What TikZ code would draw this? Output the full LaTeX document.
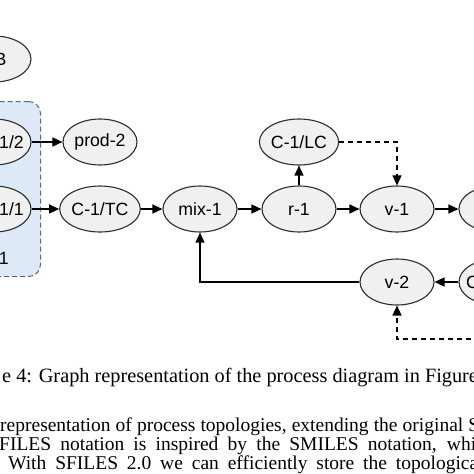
\documentclass[tikz,border=0pt]{standalone}
\usepackage{fontspec}
\setmainfont{Liberation Serif}
\newfontfamily\nodefont{Liberation Sans}
\usetikzlibrary{arrows.meta,shapes.geometric}
\definecolor{nodefill}{RGB}{240,240,240}
\definecolor{nodeline}{RGB}{45,45,45}
\definecolor{groupfill}{RGB}{222,233,247}
\definecolor{groupline}{RGB}{85,105,135}
\begin{document}
\begin{tikzpicture}[x=1pt,y=-1pt,
  unit/.style={ellipse, draw=nodeline, line width=1.1pt, fill=nodefill,
    minimum width=74pt, minimum height=46pt, inner sep=0pt,
    font=\nodefont\fontsize{17.7}{20}\selectfont},
  ntext/.style={inner sep=0pt, font=\nodefont\fontsize{17.7}{20}\selectfont},
  flow/.style={line width=1.5pt, -{Triangle[length=10pt,width=9pt]}},
  signal/.style={flow, dash pattern=on 5pt off 4pt},
  group/.style={draw=groupline, fill=groupfill, line width=1pt,
    dash pattern=on 5pt off 3pt, rounded corners=12pt},
  captext/.style={inner sep=0pt, anchor=base west}
]
\useasboundingbox (0,0) rectangle (474,474);
\fill[white] (0,0) rectangle (474,474);

% heat exchanger group
\node[group, minimum width=70pt, minimum height=175pt, anchor=north east] (grp) at (41,101) {};
\node[ntext, anchor=east] (grplbl) at (9,258) {1};

% nodes
\node[unit] (B) at (-6,59) {};
\node[ntext] (Bt) at (0.5,59) {B};
\node[unit] (h2) at (-6,142) {};
\node[ntext, anchor=east] (h2t) at (24,142) {1/2};
\node[unit] (h1) at (-6,209) {};
\node[ntext, anchor=east] (h1t) at (24,209) {1/1};
\node[unit] (prod2) at (100,142) {prod-2};
\node[unit] (ctc) at (100,209) {C-1/TC};
\node[unit] (mix) at (200,209) {mix-1};
\node[unit] (r1) at (299,209) {r-1};
\node[unit] (clc) at (299,142) {C-1/LC};
\node[unit] (v1) at (397,209) {v-1};
\node[unit] (v2) at (397,282) {v-2};
\node[unit] (nr) at (496,209) {};
\node[unit] (nc) at (496,282) {};
\node[ntext, anchor=west] (nct) at (466,282) {C};
\coordinate (ein) at (480,339);

% connectors
\draw[flow] (h2) -- (prod2);
\draw[flow] (h1) -- (ctc);
\draw[flow] (ctc) -- (mix);
\draw[flow] (mix) -- (r1);
\draw[flow] (r1) -- (clc);
\draw[flow] (r1) -- (v1);
\draw[flow] (v1) -- (nr);
\draw[flow] (nc) -- (v2);
\draw[flow] (v2.west) -| (mix.south);
\draw[signal] (clc.east) -| (v1.north);
\draw[signal] (ein) -| (v2.south);

% caption and body text
\node[captext, font=\fontsize{20.3}{24}\selectfont] (cap) at (2,382)
  {e 4: Graph representation of the process diagram in Figure};
\node[captext, font=\fontsize{19.5}{20}\selectfont] (l1) at (0,431)
  {\makebox[479pt][s]{representation of process topologies, extending the original S}};
\node[captext, font=\fontsize{19.5}{20}\selectfont] (l2) at (-1,450)
  {\makebox[477pt][s]{FILES notation is inspired by the SMILES notation, whi}};
\node[captext, font=\fontsize{19.5}{20}\selectfont] (l3) at (8,469)
  {\makebox[470pt][s]{With SFILES 2.0 we can efficiently store the topologica}};
\end{tikzpicture}
\end{document}
